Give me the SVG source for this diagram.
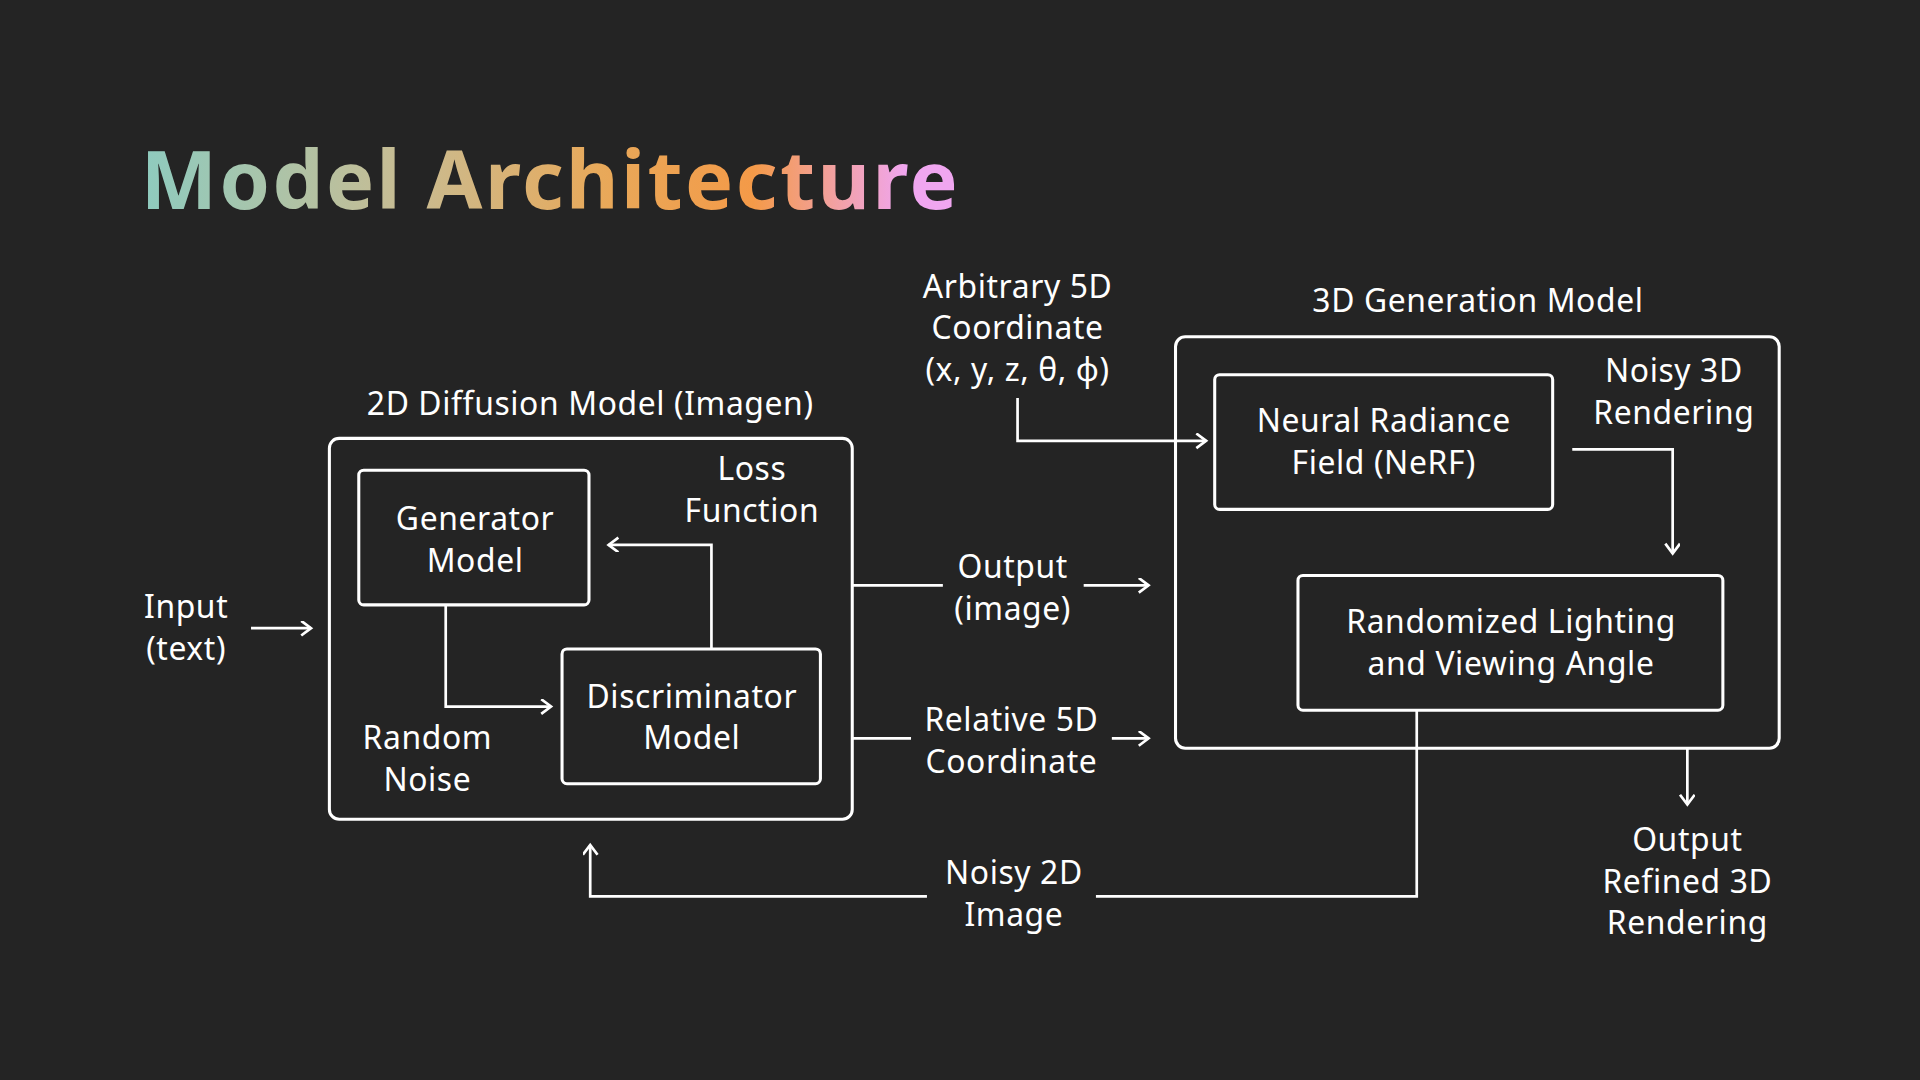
<svg xmlns="http://www.w3.org/2000/svg" width="1920" height="1080" viewBox="0 0 1920 1080">
<defs>
<linearGradient id="tg" gradientUnits="userSpaceOnUse" x1="115" y1="0" x2="740" y2="0">
<stop offset="0" stop-color="#8ecbbf"/><stop offset="0.35" stop-color="#c9bc92"/><stop offset="0.6" stop-color="#e8a95a"/><stop offset="0.8" stop-color="#f49a48"/><stop offset="1" stop-color="#f0a6f0"/>
</linearGradient>
<marker id="ah" markerWidth="14" markerHeight="14" refX="10" refY="6" orient="auto" markerUnits="userSpaceOnUse">
<path d="M2,0 L10,6 L2,12" fill="none" stroke="#fff" stroke-width="2.2"/>
</marker>
<style>
.b{fill:none;stroke:#fff;stroke-width:2.5}
.c{fill:none;stroke:#fff;stroke-width:2.2}
.t{fill:#fff;font-family:"Noto Sans","DejaVu Sans",sans-serif;font-size:26px;text-anchor:middle;letter-spacing:0.5px}
</style>
</defs>
<rect width="1920" height="1080" fill="#242424"/>
<g transform="scale(1.2245)">
<text x="115" y="171" font-family="Noto Sans,DejaVu Sans,sans-serif" font-weight="bold" font-size="66" fill="url(#tg)" letter-spacing="2">Model Architecture</text>
<g id="diffusion"><rect class="b" x="269" y="358" width="427" height="311" rx="8"/><text class="t" x="482" y="339">2D Diffusion Model (Imagen)</text></g>
<g id="generator"><rect class="b" x="293" y="384" width="188" height="110" rx="4"/><text class="t" x="388" y="433">Generator</text><text class="t" x="388" y="467">Model</text></g>
<g id="loss"><text class="t" x="614" y="392">Loss</text><text class="t" x="614" y="426">Function</text></g>
<g id="discriminator"><rect class="b" x="459" y="530" width="211" height="110" rx="4"/><text class="t" x="565" y="578">Discriminator</text><text class="t" x="565" y="612">Model</text></g>
<g id="noise"><text class="t" x="349" y="612">Random</text><text class="t" x="349" y="646">Noise</text></g>
<g id="input"><text class="t" x="152" y="505">Input</text><text class="t" x="152" y="539">(text)</text></g>
<g id="outimg"><text class="t" x="827" y="472">Output</text><text class="t" x="827" y="506">(image)</text></g>
<g id="rel5d"><text class="t" x="826" y="597">Relative 5D</text><text class="t" x="826" y="631">Coordinate</text></g>
<g id="gen3d"><rect class="b" x="960" y="275" width="493" height="336" rx="8"/><text class="t" x="1207" y="255">3D Generation Model</text></g>
<g id="nerf"><rect class="b" x="992" y="306" width="276" height="110" rx="4"/><text class="t" x="1130" y="353">Neural Radiance</text><text class="t" x="1130" y="387">Field (NeRF)</text></g>
<g id="arb5d"><text class="t" x="831" y="243">Arbitrary 5D</text><text class="t" x="831" y="277">Coordinate</text><text class="t" x="831" y="311">(x, y, z, θ, φ)</text></g>
<g id="noisy3d"><text class="t" x="1367" y="312">Noisy 3D</text><text class="t" x="1367" y="346">Rendering</text></g>
<g id="random"><rect class="b" x="1060" y="470" width="347" height="110" rx="4"/><text class="t" x="1234" y="517">Randomized Lighting</text><text class="t" x="1234" y="551">and Viewing Angle</text></g>
<g id="noisy2d"><text class="t" x="828" y="722">Noisy 2D</text><text class="t" x="828" y="756">Image</text></g>
<g id="final"><text class="t" x="1378" y="695">Output</text><text class="t" x="1378" y="729">Refined 3D</text><text class="t" x="1378" y="763">Rendering</text></g>
<g id="connectors">
<path class="c" d="M364,494 V577 H450" marker-end="url(#ah)"/>
<path class="c" d="M581,530 V445 H497" marker-end="url(#ah)"/>
<path class="c" d="M205,513 H254" marker-end="url(#ah)"/>
<path class="c" d="M696,478 H770"/>
<path class="c" d="M885,478 H938" marker-end="url(#ah)"/>
<path class="c" d="M696,603 H744"/>
<path class="c" d="M908,603 H938" marker-end="url(#ah)"/>
<path class="c" d="M831,325 V360 H985" marker-end="url(#ah)"/>
<path class="c" d="M1284,367 H1366 V452" marker-end="url(#ah)"/>
<path class="c" d="M1157,580 V732 H895"/>
<path class="c" d="M757,732 H482 V690" marker-end="url(#ah)"/>
<path class="c" d="M1378,611 V657" marker-end="url(#ah)"/>
</g>
</g>
</svg>
